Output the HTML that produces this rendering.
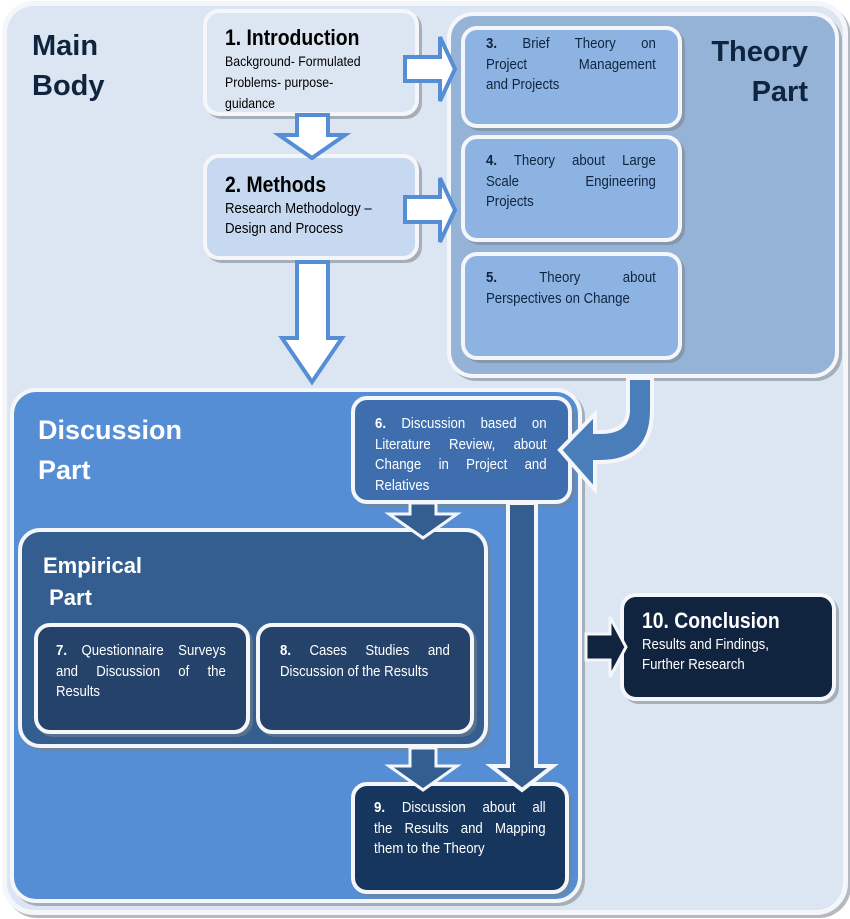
<!DOCTYPE html>
<html><head><meta charset="utf-8"><style>
body{margin:0;width:850px;height:919px;background:#fff;position:relative;overflow:hidden;font-family:"Liberation Sans",sans-serif}
.b{position:absolute;box-sizing:border-box;border:4px solid #f4f6fa;border-radius:16px;box-shadow:3px 3px 0 rgba(120,130,140,.55)}
.t{position:absolute;font-size:15px;line-height:20.5px;text-align:left;transform:scaleX(.88);transform-origin:0 0;white-space:nowrap}
.t .j{text-align:justify;text-align-last:justify;white-space:normal}
.h{font-weight:bold}
.big{position:absolute;font-weight:bold;font-size:27px;line-height:40px}
</style></head><body>
<div class="b" style="left:2px;top:1px;width:846px;height:914px;background:#dce6f2;border-radius:32px;border-width:5px"></div>
<div class="b" style="left:447px;top:12px;width:392px;height:366px;background:#95b3d7;border-radius:26px"></div>
<div class="big" style="left:32px;top:26px;color:#0f243e;font-size:29px">Main<br>Body</div>
<div class="big" style="left:680px;top:32px;color:#0f243e;text-align:right;width:128px;font-size:29px">Theory<br>Part</div>

<div class="b" style="left:203px;top:9px;width:216px;height:107px;background:#dce6f2"></div>
<div class="b" style="left:203px;top:154px;width:216px;height:106px;background:#c6d9f1"></div>
<div class="t" style="left:225px;top:26px;color:#000"><span class="h" style="font-size:22px;line-height:24px">1. Introduction</span><br><span style="font-size:14px;line-height:21px;display:block;margin-top:-1px">Background- Formulated<br>Problems- purpose-<br>guidance</span></div>
<div class="t" style="left:225px;top:173px;color:#000"><span class="h" style="font-size:22px;line-height:24px">2. Methods</span><br><span style="display:block;margin-top:0px">Research Methodology –<br>Design and Process</span></div>

<div class="b" style="left:461px;top:26px;width:221px;height:102px;background:#8db3e2"></div>
<div class="b" style="left:461px;top:135px;width:221px;height:107px;background:#8db3e2"></div>
<div class="b" style="left:461px;top:252px;width:221px;height:108px;background:#8db3e2"></div>
<div class="t" style="left:486px;top:34px;width:193px;color:#0f243e"><div class="j"><b>3.</b> Brief Theory on</div><div class="j">Project Management</div><div>and Projects</div></div>
<div class="t" style="left:486px;top:151px;width:193px;color:#0f243e"><div class="j"><b>4.</b> Theory about Large</div><div class="j">Scale Engineering</div><div>Projects</div></div>
<div class="t" style="left:486px;top:268px;width:193px;color:#0f243e"><div class="j"><b>5.</b> Theory about</div><div>Perspectives on Change</div></div>

<div class="b" style="left:10px;top:388px;width:572px;height:515px;background:#558ed5;border-radius:26px"></div>
<div class="big" style="left:38px;top:410px;color:#fff">Discussion<br>Part</div>
<div class="b" style="left:351px;top:396px;width:221px;height:108px;background:#3f6eae"></div>
<div class="t" style="left:375px;top:414px;width:195px;color:#fff"><div class="j"><b>6.</b> Discussion based on</div><div class="j">Literature Review, about</div><div class="j">Change in Project and</div><div>Relatives</div></div>

<div class="b" style="left:18px;top:528px;width:470px;height:220px;background:#345d90;border-radius:22px"></div>
<div class="big" style="left:43px;top:550px;color:#fff;font-size:22px;line-height:32px">Empirical<br>&nbsp;Part</div>
<div class="b" style="left:34px;top:623px;width:216px;height:111px;background:#25436a"></div>
<div class="b" style="left:256px;top:623px;width:218px;height:111px;background:#25436a"></div>
<div class="t" style="left:56px;top:641px;width:193px;color:#fff"><div class="j"><b>7.</b> Questionnaire Surveys</div><div class="j">and Discussion of the</div><div>Results</div></div>
<div class="t" style="left:280px;top:641px;width:193px;color:#fff"><div class="j"><b>8.</b> Cases Studies and</div><div>Discussion of the Results</div></div>

<div class="b" style="left:351px;top:782px;width:218px;height:112px;background:#17365d"></div>
<div class="t" style="left:374px;top:798px;width:195px;color:#fff"><div class="j"><b>9.</b> Discussion about all</div><div class="j">the Results and Mapping</div><div>them to the Theory</div></div>

<div class="b" style="left:620px;top:593px;width:216px;height:108px;background:#10243f"></div>
<div class="t" style="left:642px;top:609px;color:#fff"><span class="h" style="font-size:22px;line-height:24px">10. Conclusion</span><br><span style="display:block;margin-top:0px">Results and Findings,<br>Further Research</span></div>

<svg width="850" height="919" style="position:absolute;left:0;top:0">
<g stroke-linejoin="miter">
<polygon points="297,115 328,115 328,135 345,135 312,158 279,135 297,135" fill="#fff" stroke="#558ed5" stroke-width="4"/>
<polygon points="405,57 440,57 440,37 455,69 440,101 440,81 405,81" fill="#fff" stroke="#558ed5" stroke-width="4"/>
<polygon points="405,197 440,197 440,178 455,210 440,242 440,222 405,222" fill="#fff" stroke="#558ed5" stroke-width="4"/>
<polygon points="297,262 328,262 328,338 342,338 312,382 282,338 297,338" fill="#fff" stroke="#558ed5" stroke-width="4"/>
<path d="M628,378 L652,378 L652,410 Q652,462 600,462 L595,462 L595,490 L560,450 L595,414 L595,432 L600,432 Q628,432 628,410 Z" fill="#4a7ebb" stroke="#f4f6fa" stroke-width="4"/>
<polygon points="410,503 436,503 436,514 457,514 423,538 389,514 410,514" fill="#345d90" stroke="#f4f6fa" stroke-width="3"/>
<polygon points="508,503 536,503 536,766 553,766 522,790 491,766 508,766" fill="#345d90" stroke="#f4f6fa" stroke-width="4"/>
<polygon points="410,748 436,748 436,766 457,766 423,790 389,766 410,766" fill="#345d90" stroke="#f4f6fa" stroke-width="3"/>
<polygon points="586,634 610,634 610,617 626,647 610,677 610,660 586,660" fill="#10243f" stroke="#f4f6fa" stroke-width="3"/>
</g>
</svg>
</body></html>
